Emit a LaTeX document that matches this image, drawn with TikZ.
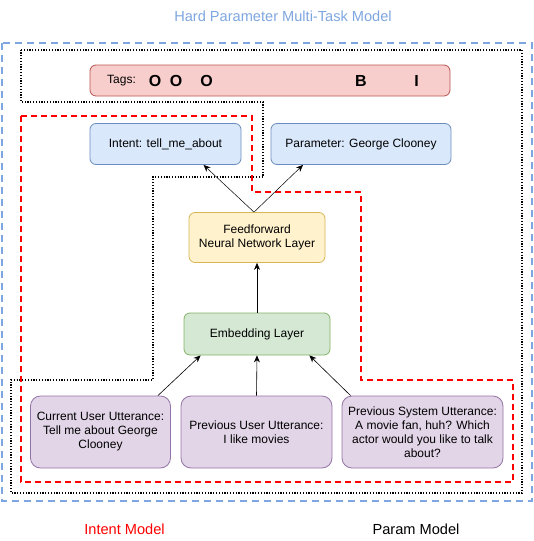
\documentclass[tikz,border=0pt]{standalone}
\usepackage{fontspec}
\setsansfont{Liberation Sans}
\usetikzlibrary{arrows.meta}

\definecolor{hardblue}{HTML}{7EA6E0}
\definecolor{tagfill}{HTML}{F8CECC}
\definecolor{tagdraw}{HTML}{B85450}
\definecolor{outfill}{HTML}{DAE8FC}
\definecolor{outdraw}{HTML}{6C8EBF}
\definecolor{fffill}{HTML}{FFF2CC}
\definecolor{ffdraw}{HTML}{D6B656}
\definecolor{embfill}{HTML}{D5E8D4}
\definecolor{embdraw}{HTML}{82B366}
\definecolor{infill}{HTML}{E1D5E7}
\definecolor{indraw}{HTML}{9673A6}

\begin{document}
\begin{tikzpicture}[
  x=1pt, y=-1pt,
  font=\sffamily\fontsize{12}{14}\selectfont,
  layer/.style={draw, rounded corners=6pt, align=center, line width=0.8pt,
    inner sep=2pt},
  tagbox/.style={layer, draw=tagdraw, fill=tagfill, minimum width=360pt, minimum height=31pt},
  outbox/.style={layer, draw=outdraw, fill=outfill, minimum height=41pt},
  ffbox/.style={layer, draw=ffdraw, fill=fffill, minimum width=136pt, minimum height=50pt},
  embbox/.style={layer, draw=embdraw, fill=embfill, minimum width=146pt, minimum height=42pt},
  inbox/.style={layer, draw=indraw, fill=infill, rounded corners=10pt, minimum height=72pt},
  tagch/.style={font=\sffamily\bfseries\fontsize{16}{18}\selectfont},
  link/.style={-{Stealth[length=7pt, width=6pt]}, line width=0.6pt},
  modellabel/.style={font=\sffamily\fontsize{14.6}{16}\selectfont}
]
\useasboundingbox (0,0) rectangle (534,541);

% title and the shared outer box
\node[modellabel, text=hardblue] (title) at (283,16) {Hard Parameter Multi-Task Model};
\draw[hardblue, line width=1.5pt, dash pattern=on 7pt off 5pt] (2,43) rectangle (532,501);

% param model region (dotted)
\draw[line width=1.5pt, dash pattern=on 1.2pt off 1.6pt]
  (21,50) -- (522,50) -- (522,493) -- (11,493) -- (11,380) -- (153,380)
  -- (153,177) -- (263,177) -- (263,102) -- (21,102) -- cycle;

% intent model region (red dashed)
\draw[red, line width=2pt, dash pattern=on 6pt off 4pt]
  (21,116) -- (252,116) -- (252,192) -- (361,192) -- (361,380)
  -- (513,380) -- (513,482) -- (21,482) -- cycle;

% output layer
\node[tagbox] (tags) at (270,80.5) {};
\node (taglabel) at (121.5,81) {Tags:};
\node[tagch] (tag1) at (155,81) {O};
\node[tagch] (tag2) at (176,81) {O};
\node[tagch] (tag3) at (206.5,81) {O};
\node[tagch] (tag4) at (361,81) {B};
\node[tagch] (tag5) at (416.5,81) {I};

\node[outbox, minimum width=151pt] (intent) at (165.5,144) {Intent: tell\_me\_about};
\node[outbox, minimum width=180pt] (param)  at (361,144)   {Parameter: George Clooney};

% shared layers
\node[ffbox]  (ff)  at (257,237.5) {Feedforward\\Neural Network Layer};
\node[embbox] (emb) at (257,334)   {Embedding Layer};

% inputs
\node[inbox, minimum width=140pt] (cur)   at (100.5,432) {Current User Utterance:\\Tell me about George\\Clooney};
\node[inbox, minimum width=151pt] (prevu) at (256.5,432) {Previous User Utterance:\\I like movies};
\node[inbox, minimum width=161pt] (prevs) at (422.5,432) {Previous System Utterance:\\A movie fan, huh? Which\\actor would you like to talk\\about?};

% connectors
\draw[link] ([xshift=-13pt]cur.north east) -- ([xshift=17pt]emb.south west);
\draw[link] (prevu.north) -- (emb.south);
\draw[link] ([xshift=9pt]prevs.north west) -- ([xshift=-21pt]emb.south east);
\draw[link] (emb.north) -- (ff.north |- ff.south);
\draw[link, line width=0.5pt] ([xshift=-3pt]ff.north) -- ([xshift=38pt]intent.south);
\draw[link, line width=0.5pt] ([xshift=-3pt]ff.north) -- ([xshift=-58pt]param.south);

% model names
\node[modellabel, text=red] (intentname) at (124.5,529) {Intent Model};
\node[modellabel] (paramname) at (416,529) {Param Model};

\end{tikzpicture}
\end{document}
